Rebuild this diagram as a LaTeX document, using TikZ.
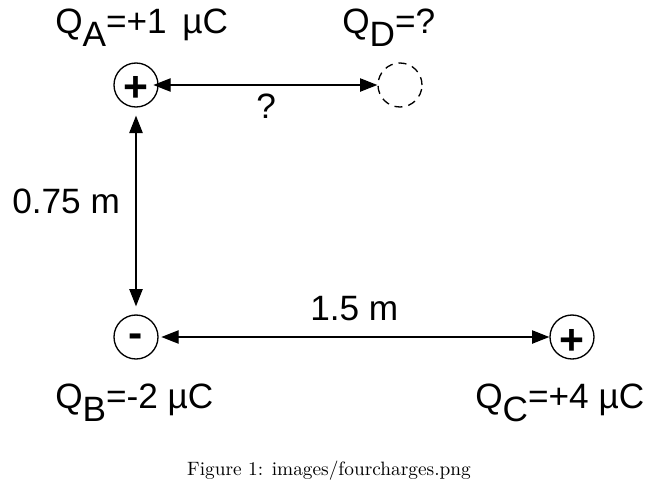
\documentclass[tikz,border=0pt]{standalone}
\usepackage{fontspec}
\setmainfont{Liberation Sans}
\newfontfamily\capfont[OpticalSize=10]{Latin Modern Roman}
\usetikzlibrary{arrows.meta}
\tikzset{
 charge/.style={circle,draw=black,line width=1pt,minimum size=33pt,inner sep=0pt},
 sign/.style={font=\fontsize{32}{32}\selectfont\bfseries,inner sep=0pt},
 lab/.style={font=\fontsize{26.4}{26.4}\selectfont,inner sep=0pt,anchor=base west},
 dim/.style={{Stealth[length=13pt,width=10pt,inset=0pt]}-{Stealth[length=13pt,width=10pt,inset=0pt]},line width=1pt}
}
\begin{document}
\begin{tikzpicture}[x=0.75pt,y=-0.75pt]
\useasboundingbox (0,0) rectangle (665,490);
\node[charge] (A) at (136,85) {};
\node[charge] (B) at (136,337) {};
\node[charge] (C) at (572,337) {};
\node[charge,dash pattern=on 6pt off 4.5pt] (D) at (400,85) {};
\node[sign] (pa) at (136,89) {+};
\node[sign] (mb) at (136,341) {-};
\node[sign] (pc) at (572,342) {+};
\draw[dim,shorten <=-4pt] (A) -- (D);
\draw[dim,shorten <=6pt,shorten >=6pt] (A) -- (B);
\draw[dim,shorten <=2pt] (B) -- (C);
\node[lab] (qa) at (55,33) {Q\raisebox{-10pt}{A}=+1 \,µC};
\node[lab] (qd) at (342,33) {Q\raisebox{-10pt}{D}=?};
\node[lab] (qb) at (55,408) {Q\raisebox{-10pt}{B}=-2 µC};
\node[lab] (qc) at (475,408) {Q\raisebox{-10pt}{C}=+4 µC};
\node[lab] (q) at (256,118) {?};
\node[lab] (h) at (12,213) {0.75 m};
\node[lab] (w) at (310,320) {1.5 m};
\node[font=\capfont\fontsize{14.5}{15}\selectfont,inner sep=0pt,anchor=base] (cap) at (329,475) {Figure 1: images/fourcharges.png};
\end{tikzpicture}
\end{document}
